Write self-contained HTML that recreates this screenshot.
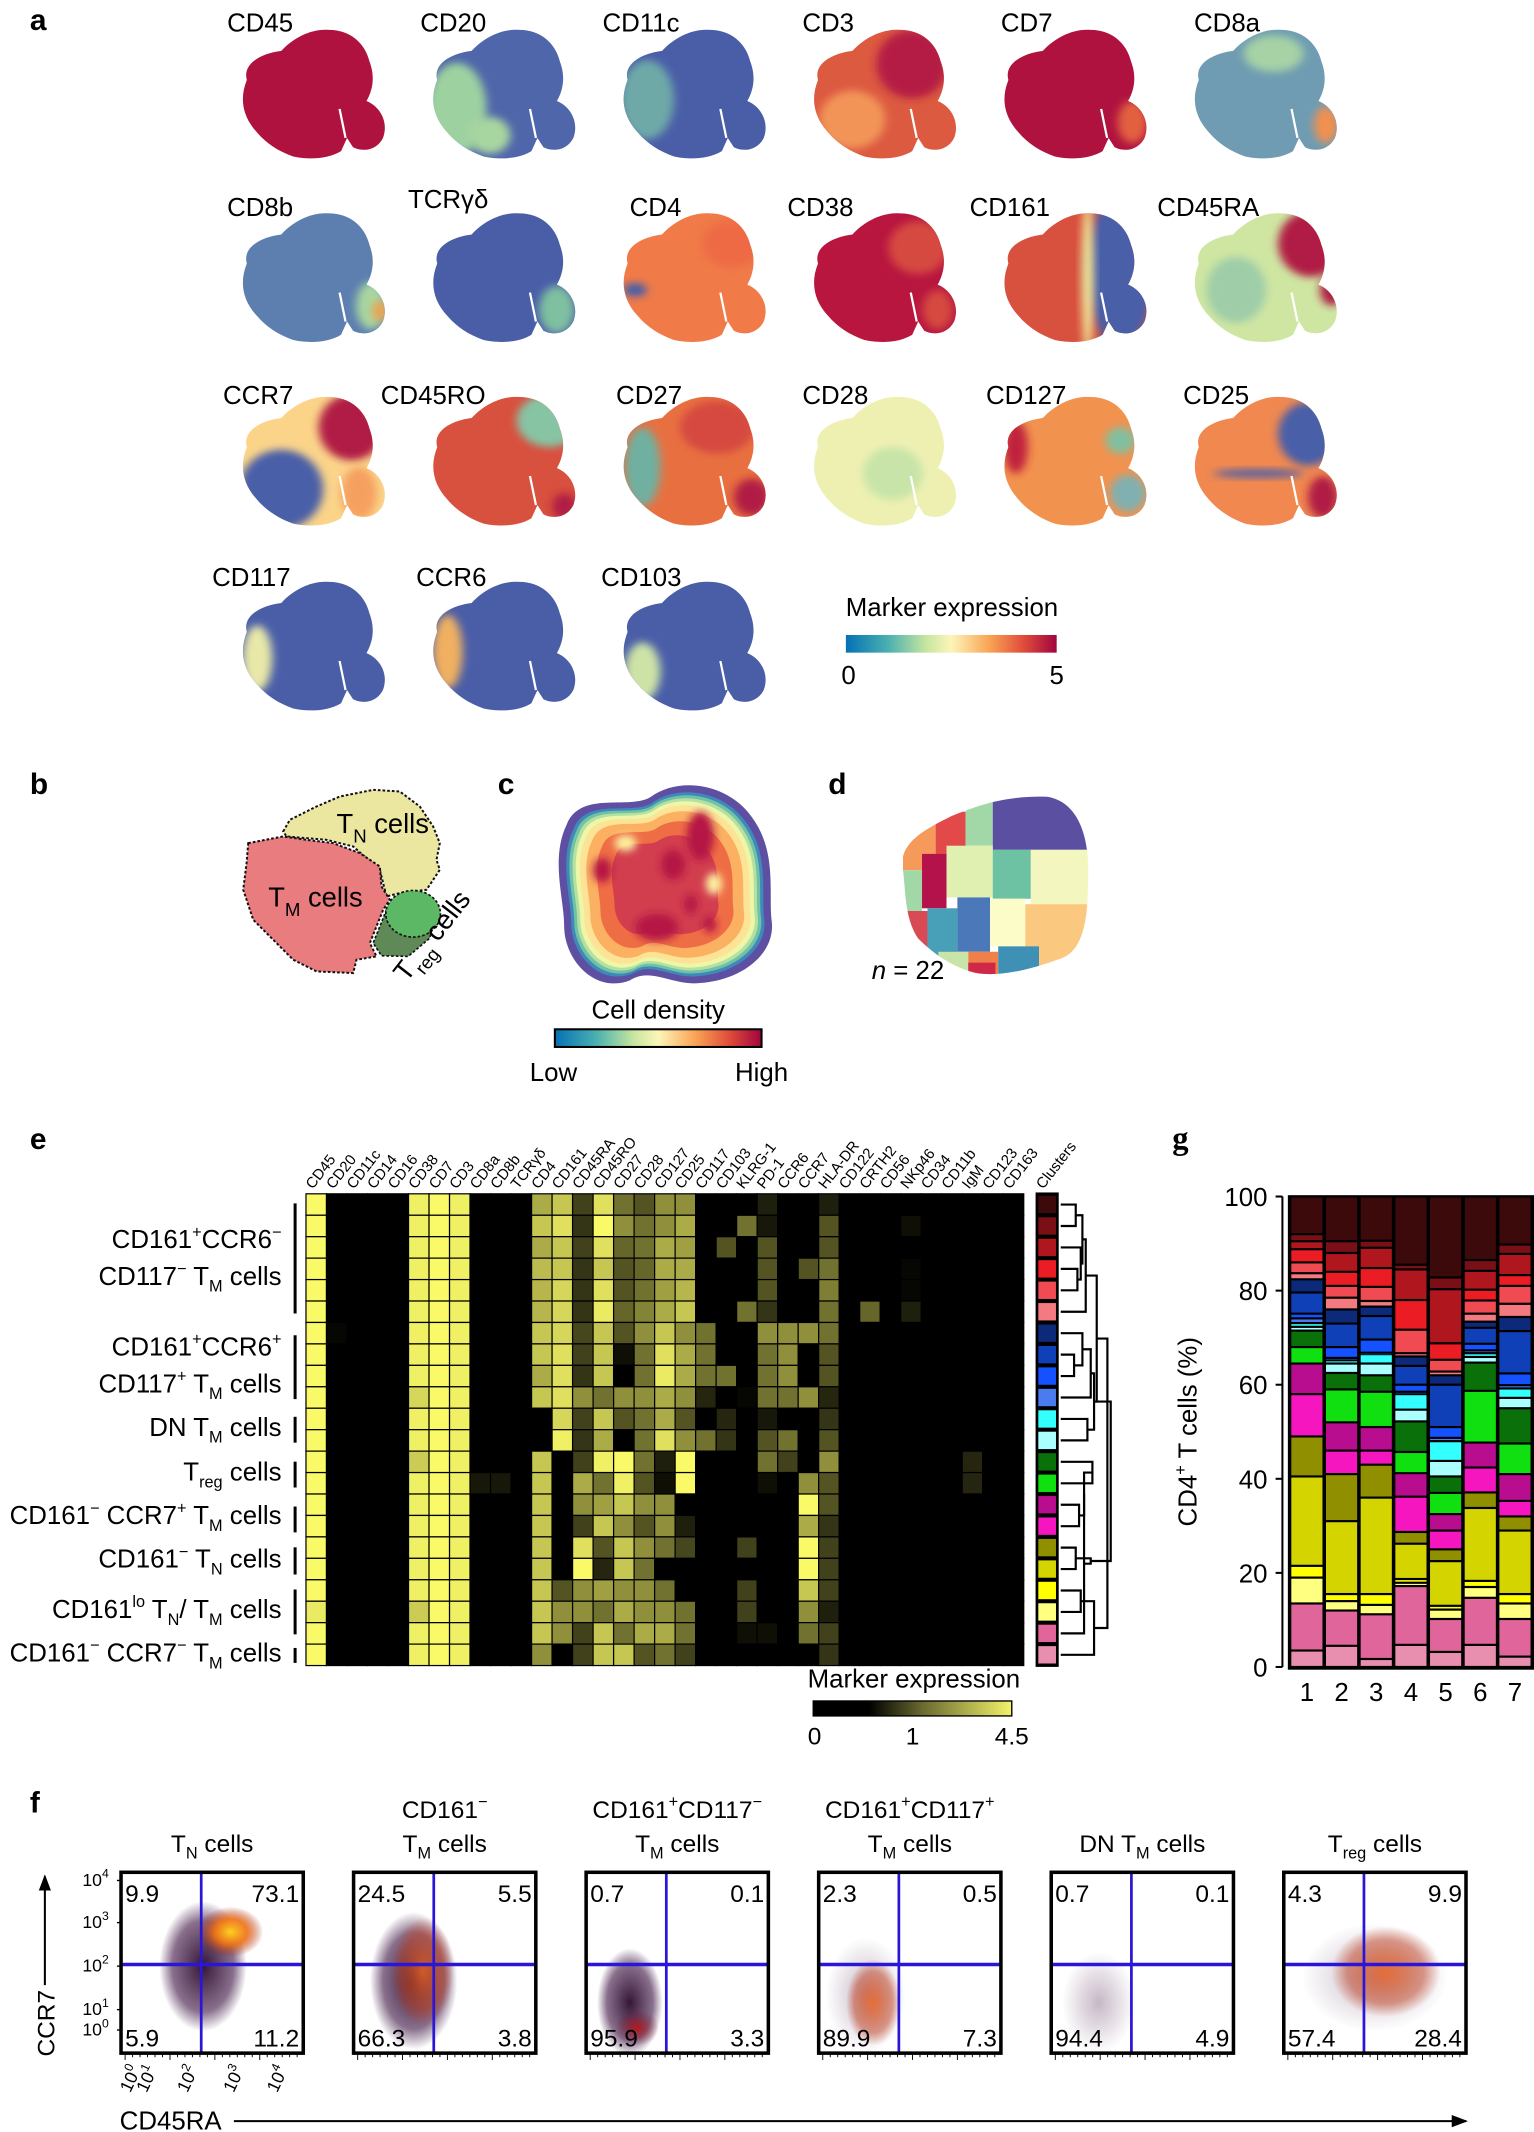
<!DOCTYPE html>
<html><head><meta charset="utf-8"><title>CD4 T cell figure</title>
<style>
html,body{margin:0;padding:0;background:#fff;}
svg{display:block;font-family:"Liberation Sans",Arial,sans-serif;}
</style></head>
<body>
<svg id="fig" xmlns="http://www.w3.org/2000/svg" width="1534" height="2132" viewBox="0 0 1128 1568" preserveAspectRatio="none">
<defs>
  <linearGradient id="specGrad" x1="0" x2="1" y1="0" y2="0">
    <stop offset="0" stop-color="#0571b5"/><stop offset="0.2" stop-color="#4bb0b0"/><stop offset="0.38" stop-color="#c6e6a0"/>
    <stop offset="0.5" stop-color="#fdf5b8"/><stop offset="0.68" stop-color="#f9a456"/><stop offset="0.84" stop-color="#e04e3a"/><stop offset="1" stop-color="#a1043e"/>
  </linearGradient>
  <linearGradient id="heatGrad" x1="0" x2="1" y1="0" y2="0">
    <stop offset="0" stop-color="#000"/><stop offset="0.28" stop-color="#000"/><stop offset="0.55" stop-color="#6a6a30"/><stop offset="1" stop-color="#f2f26a"/>
  </linearGradient>
  <filter id="soft" x="-50%" y="-50%" width="200%" height="200%"><feGaussianBlur stdDeviation="5"/></filter>
  <filter id="soft2" x="-50%" y="-50%" width="200%" height="200%"><feGaussianBlur stdDeviation="3"/></filter>
  <radialGradient id="cloudDark"><stop offset="0" stop-color="#2a0a2a" stop-opacity="0.95"/><stop offset="0.7" stop-color="#3a1040" stop-opacity="0.6"/><stop offset="1" stop-color="#3a1040" stop-opacity="0"/></radialGradient>
  <radialGradient id="cloudHot"><stop offset="0" stop-color="#ffd020"/><stop offset="0.5" stop-color="#f07010" stop-opacity="0.9"/><stop offset="1" stop-color="#a02010" stop-opacity="0"/></radialGradient>
  <radialGradient id="cloudRed"><stop offset="0" stop-color="#c01010" stop-opacity="0.9"/><stop offset="1" stop-color="#601030" stop-opacity="0"/></radialGradient>
  <radialGradient id="cloudLight"><stop offset="0" stop-color="#806080" stop-opacity="0.45"/><stop offset="1" stop-color="#806080" stop-opacity="0"/></radialGradient>
  <radialGradient id="cloudOrange"><stop offset="0" stop-color="#e86020" stop-opacity="0.85"/><stop offset="0.7" stop-color="#c04020" stop-opacity="0.5"/><stop offset="1" stop-color="#c04020" stop-opacity="0"/></radialGradient>
  <marker id="arrowHead" markerWidth="8" markerHeight="8" refX="7" refY="4" orient="auto"><path d="M0,1 L8,4 L0,7 Z" fill="#000"/></marker>
</defs>

<g font-weight="bold" font-size="22" fill="#000">
  <text x="22" y="22">a</text>
  <text x="22" y="584">b</text>
  <text x="366" y="584">c</text>
  <text x="609" y="584">d</text>
  <text x="22" y="845">e</text>
  <text x="22" y="1333">f</text>
  <text x="862" y="845" font-family="Liberation Serif,serif" font-size="24">g</text>
</g>

<g id="panelA"></g>
<g>
  <text x="700" y="453" text-anchor="middle" font-size="19">Marker expression</text>
  <rect x="622" y="467" width="155" height="13" fill="url(#specGrad)"/>
  <text x="624" y="503" text-anchor="middle" font-size="19">0</text>
  <text x="777" y="503" text-anchor="middle" font-size="19">5</text>
</g>

<g transform="translate(147,566.2) scale(0.245)">
  <path d="M250,185 L270,150 L350,110 L420,80 L520,60 L600,65 L660,110 L700,170 L720,220 L710,270 L720,300 L700,330 L680,360 L600,370 L560,380 L540,300 L460,230 L380,210 L260,200 Z" fill="#ece7a0" stroke="#111" stroke-width="6" stroke-dasharray="8 6"/>
  <path d="M145,220 L250,200 L320,210 L400,220 L480,250 L540,290 L545,350 L570,390 L550,420 L510,520 L530,560 L470,570 L460,610 L350,605 L280,570 L230,520 L200,490 L160,450 L130,360 L140,280 Z" fill="#e97c7f" stroke="#111" stroke-width="6" stroke-dasharray="8 6"/>
  <path d="M560,420 L520,520 L545,558 L625,560 L690,505 L700,460 L640,500 L580,470 Z" fill="#5f8a58" stroke="#111" stroke-width="5" stroke-dasharray="8 6"/>
  <ellipse cx="640" cy="432" rx="82" ry="70" fill="#5cb864" stroke="#111" stroke-width="5" stroke-dasharray="8 6"/>
  <text x="410" y="190" font-size="82">T<tspan font-size="56" dy="28">N</tspan><tspan dy="-28"> cells</tspan></text>
  <text x="205" y="410" font-size="82">T<tspan font-size="56" dy="28">M</tspan><tspan dy="-28"> cells</tspan></text>
  <text x="0" y="0" font-size="82" transform="translate(620,640) rotate(-52)">T<tspan font-size="56" dy="28">reg</tspan><tspan dy="-28"> cells</tspan></text>
</g>

<g id="panelC"></g>
<g>
  <text x="484" y="749" text-anchor="middle" font-size="19">Cell density</text>
  <rect x="408" y="757" width="152" height="13" fill="url(#specGrad)" stroke="#000" stroke-width="1.5"/>
  <text x="407" y="795" text-anchor="middle" font-size="19">Low</text>
  <text x="560" y="795" text-anchor="middle" font-size="19">High</text>
</g>

<g id="panelD"></g>
<text x="641" y="720" font-size="19"><tspan font-style="italic">n</tspan> = 22</text>

<g id="panelE"></g>
<g font-size="19" text-anchor="end">
  <text x="207" y="918">CD161<tspan font-size="12" dy="-8">+</tspan><tspan dy="8">CCR6</tspan><tspan font-size="12" dy="-8">−</tspan></text>
  <text x="207" y="945">CD117<tspan font-size="12" dy="-8">−</tspan><tspan dy="8"> T</tspan><tspan font-size="12" dy="5">M</tspan><tspan dy="-5"> cells</tspan></text>
  <text x="207" y="997">CD161<tspan font-size="12" dy="-8">+</tspan><tspan dy="8">CCR6</tspan><tspan font-size="12" dy="-8">+</tspan></text>
  <text x="207" y="1024">CD117<tspan font-size="12" dy="-8">+</tspan><tspan dy="8"> T</tspan><tspan font-size="12" dy="5">M</tspan><tspan dy="-5"> cells</tspan></text>
  <text x="207" y="1056">DN T<tspan font-size="12" dy="5">M</tspan><tspan dy="-5"> cells</tspan></text>
  <text x="207" y="1089">T<tspan font-size="12" dy="5">reg</tspan><tspan dy="-5"> cells</tspan></text>
  <text x="207" y="1121">CD161<tspan font-size="12" dy="-8">−</tspan><tspan dy="8"> CCR7</tspan><tspan font-size="12" dy="-8">+</tspan><tspan dy="8"> T</tspan><tspan font-size="12" dy="5">M</tspan><tspan dy="-5"> cells</tspan></text>
  <text x="207" y="1153">CD161<tspan font-size="12" dy="-8">−</tspan><tspan dy="8"> T</tspan><tspan font-size="12" dy="5">N</tspan><tspan dy="-5"> cells</tspan></text>
  <text x="207" y="1190">CD161<tspan font-size="12" dy="-8">lo</tspan><tspan dy="8"> T</tspan><tspan font-size="12" dy="5">N</tspan><tspan dy="-5">/ T</tspan><tspan font-size="12" dy="5">M</tspan><tspan dy="-5"> cells</tspan></text>
  <text x="207" y="1222">CD161<tspan font-size="12" dy="-8">−</tspan><tspan dy="8"> CCR7</tspan><tspan font-size="12" dy="-8">−</tspan><tspan dy="8"> T</tspan><tspan font-size="12" dy="5">M</tspan><tspan dy="-5"> cells</tspan></text>
</g>
<g stroke="#000" stroke-width="2.2">
  <line x1="217" y1="885" x2="217" y2="966"/><line x1="217" y1="982" x2="217" y2="1029"/>
  <line x1="217" y1="1042" x2="217" y2="1061"/><line x1="217" y1="1075" x2="217" y2="1094"/>
  <line x1="217" y1="1108" x2="217" y2="1127"/><line x1="217" y1="1138" x2="217" y2="1158"/>
  <line x1="217" y1="1169" x2="217" y2="1202"/><line x1="217" y1="1212" x2="217" y2="1223"/>
</g>
<g>
  <text x="672" y="1241" text-anchor="middle" font-size="19">Marker expression</text>
  <rect x="598" y="1251" width="146" height="11" fill="url(#heatGrad)" stroke="#000" stroke-width="1"/>
  <text x="599" y="1283" text-anchor="middle" font-size="18">0</text>
  <text x="671" y="1283" text-anchor="middle" font-size="18">1</text>
  <text x="744" y="1283" text-anchor="middle" font-size="18">4.5</text>
</g>

<g id="panelF"></g>
<g>
  <line x1="33" y1="1460" x2="33" y2="1380" stroke="#000" stroke-width="1.5" marker-end="url(#arrowHead)"/>
  <text x="0" y="0" font-size="18" text-anchor="middle" transform="translate(40,1488) rotate(-90)">CCR7</text>
  <text x="88" y="1566" font-size="19">CD45RA</text>
  <line x1="172" y1="1560" x2="1078" y2="1560" stroke="#000" stroke-width="1.5" marker-end="url(#arrowHead)"/>
</g>

<g id="panelG"></g>
<text x="0" y="0" font-size="19" text-anchor="middle" transform="translate(880,1053) rotate(-90)">CD4<tspan font-size="12" dy="-8">+</tspan><tspan dy="8"> T cells (%)</tspan></text>
</svg>

<script>
const NS = 'http://www.w3.org/2000/svg';
const svg = document.getElementById('fig');
function mk(tag, attrs, parent){
  const e = document.createElementNS(NS, tag);
  for (const k in attrs) e.setAttribute(k, attrs[k]);
  parent.appendChild(e);
  return e;
}

/* ---------------- Panel a ---------------- */
const aMarkers = ['CD45','CD20','CD11c','CD3','CD7','CD8a','CD8b','TCRγδ','CD4','CD38','CD161','CD45RA','CCR7','CD45RO','CD27','CD28','CD127','CD25','CD117','CCR6','CD103'];
const aBase = ['#b0123f','#4f66aa','#4a5ea8','#dc5a40','#b0123f','#6f9cb2','#5c7fb0','#4a5ea8','#f07a48','#b8163f','#d8503e','#cfe6a2','#fbd48a','#d8503e','#e87040','#eef0b2','#f2924f','#f08850','#4a5ea8','#4a5ea8','#4a5ea8'];
const aOver = [
  [],
  [[18,62,20,35,'#9dd1a0'],[40,82,14,14,'#a8d6a0']],
  [[18,55,18,30,'#6ea9a8']],
  [[68,28,24,26,'#b51a45'],[28,70,22,22,'#f29458']],
  [[88,72,10,16,'#e26040']],
  [[90,74,8,14,'#f29050'],[55,20,20,14,'#a6d2a6']],
  [[88,72,10,18,'#a8d6a0'],[94,76,5,8,'#f0a050']],
  [[85,75,12,18,'#7fc0a0']],
  [[10,60,8,5,'#3f5fab'],[75,25,20,18,'#ee6a44']],
  [[72,28,20,20,'#d64a40'],[85,75,10,15,'#d64a40']],
  [[80,45,22,60,'#4a5ea8'],[58,50,4,60,'#f0e898']],
  [[80,25,22,25,'#b01a45'],[94,60,8,12,'#b01a45'],[30,60,20,25,'#9fcda8']],
  [[75,25,22,25,'#b01a45'],[28,72,28,30,'#4a5ea8'],[80,75,12,20,'#f6a060']],
  [[80,20,22,20,'#86c4a4'],[90,85,8,10,'#b01a45']],
  [[15,55,12,30,'#6fb0a0'],[88,78,12,14,'#b01a45'],[65,25,25,20,'#d64a40']],
  [[55,60,20,20,'#c8e4a8']],
  [[10,40,8,20,'#c0203e'],[80,35,10,10,'#80c0a0'],[85,75,12,14,'#80b0b0']],
  [[78,30,20,24,'#4a5ea8'],[88,78,10,16,'#b01a45'],[45,60,30,3,'#4a5ea8']],
  [[12,60,10,25,'#e8e8a8']],
  [[12,55,10,28,'#f0b060']],
  [[15,70,12,22,'#cde3a6']]
];
const aBlobX = [181,321,461,601,741,881, 181,321,461,601,741,881, 181,321,461,601,741,881, 181,321,461];
const aBlobY = [20,20,20,20,20,20, 155,155,155,155,155,155, 290,290,290,290,290,290, 426,426,426];
const aLabelX = [167,309,443,590,736,878, 167,300,463,579,713,851, 164,280,453,590,725,870, 156,306,442];
const aLabelY = [23,23,23,23,23,23, 159,153,159,159,159,159, 297,297,297,297,297,297, 431,431,431];
const BLOB = 'M5,40 C2,28 14,20 28,18 C36,8 48,1 60,2 C74,2 84,12 87,26 C91,38 89,48 85,56 C94,60 100,72 96,84 C92,93 83,95 76,91 L72,84 L68,94 C58,101 44,100 36,98 C26,94 18,88 12,80 C2,68 0,54 5,40 Z';
const defs = svg.querySelector('defs');
const panelA = document.getElementById('panelA');
for (let i = 0; i < aMarkers.length; i++) {
  const cp = mk('clipPath', {id: 'blobclip' + i}, defs);
  mk('path', {d: BLOB}, cp);
  const g = mk('g', {transform: `translate(${aBlobX[i]-5},${aBlobY[i]}) scale(1.1,0.97)`}, panelA);
  
  
  const inner = mk('g', {'clip-path': `url(#blobclip${i})`}, g);
  mk('rect', {x: 0, y: 0, width: 100, height: 100, fill: aBase[i]}, inner);
  aOver[i].forEach(o => { mk('ellipse', {cx: o[0], cy: o[1], rx: o[2], ry: o[3], fill: o[4], filter: 'url(#soft2)'}, inner); });
  mk('path', {d: 'M67,62 L71,84', stroke: '#fff', 'stroke-width': 1.5, fill: 'none'}, inner);
  const t = mk('text', {x: aLabelX[i], y: aLabelY[i], 'font-size': 19}, panelA);
  t.textContent = aMarkers[i];
  
  
}

/* ---------------- Panel c ---------------- */
const panelC = document.getElementById('panelC');
const cLevels = ['#5e4fa2','#3e88ba','#6fc2a5','#b4e0a2','#eef7a8','#fde396','#fbb062','#ef6d45','#d23e4e'];
const cScale = [1, 0.93, 0.9, 0.87, 0.84, 0.8, 0.74, 0.64, 0.5];
const CBLOB = 'M-70,-45 C-60,-70 -25,-55 -10,-65 C10,-80 45,-75 62,-50 C80,-25 74,5 76,25 C80,50 55,70 25,72 C5,74 -10,60 -25,70 C-50,80 -72,55 -72,30 C-72,10 -82,-20 -70,-45 Z';
for (let k = 0; k < cLevels.length; k++) {
  const p = mk('path', {d: CBLOB, fill: cLevels[k], transform: `translate(489,651) scale(${1.03*cScale[k]},${1.0*cScale[k]})`}, panelC);
  
  
}
const cHot = [[443,640,7,9],[495,636,9,11],[483,682,16,10],[508,665,5,7],[515,615,10,18],[522,680,5,6]];
cHot.forEach(h => {
  const e = mk('ellipse', {cx: h[0], cy: h[1], rx: h[2], ry: h[3], fill: '#b51844', filter: 'url(#soft2)'}, panelC);
  
  
});
const cYellow = [[460,620,8,6],[525,650,6,8]];
cYellow.forEach(h => { mk('ellipse', {cx: h[0], cy: h[1], rx: h[2], ry: h[3], fill: '#fdf0a0', filter: 'url(#soft2)'}, panelC); });

/* ---------------- Panel d ---------------- */
const panelD = document.getElementById('panelD');
const cpD = mk('clipPath', {id: 'dclip'}, defs);
mk('path', {d: 'M664,640 C660,620 680,610 700,600 C720,592 740,585 770,586 C795,590 802,620 800,650 C800,680 795,700 780,705 C760,712 740,718 720,716 C700,712 685,700 675,690 C665,675 666,655 664,640 Z'}, cpD);
const dPatch = [[664,600,24,40,'#f59a5a'],[688,597,22,40,'#e24a4a'],[710,590,20,32,'#a2d8a8'],[730,585,72,40,'#5a4fa0'],[664,640,14,30,'#a2d8a8'],[678,628,18,40,'#b3124a'],[696,622,34,38,'#dff0b0'],[730,625,28,36,'#6cc2a2'],[758,625,44,40,'#f4f6c0'],[664,670,18,30,'#d84a54'],[682,668,22,35,'#48a0b8'],[704,660,24,40,'#4a78b8'],[728,661,26,35,'#fbfcc8'],[754,665,48,50,'#fbc880'],[690,700,22,20,'#c8e4a8'],[712,700,22,20,'#f0804a'],[734,696,30,22,'#3f90b5'],[712,708,20,10,'#d02848']];
dPatch.forEach(p => {
  const r = mk('rect', {x: p[0], y: p[1], width: p[2], height: p[3], fill: p[4], 'clip-path': 'url(#dclip)'}, panelD);
  
  
});

/* ---------------- Panel e ---------------- */
const heatCols = ['CD45','CD20','CD11c','CD14','CD16','CD38','CD7','CD3','CD8a','CD8b','TCRγδ','CD4','CD161','CD45RA','CD45RO','CD27','CD28','CD127','CD25','CD117','CD103','KLRG-1','PD-1','CCR6','CCR7','HLA-DR','CD122','CRTH2','CD56','NKp46','CD34','CD11b','IgM','CD123','CD163'];
const heatRows = [
 [4.5,0,0,0,0,4.3,4.5,4.3,0,0,0,3,3.5,1.2,4,2,1.5,2.5,2.5,0,0,0,0.7,0,0,0.7,0,0,0,0,0,0,0,0,0],
 [4.5,0,0,0,0,4.3,4.5,4.3,0,0,0,3.5,4,1,4.5,2.5,2,2.5,3,0,0,2,0.6,0,0,1.5,0,0,0,0.5,0,0,0,0,0],
 [4.5,0,0,0,0,4.3,4.5,4.3,0,0,0,3,3.5,1.2,4,1.8,2,3,2.8,0,1.5,0,1.5,0,0,1.5,0,0,0,0.3,0,0,0,0,0],
 [4.5,0,0,0,0,4.3,4.5,4.3,0,0,0,3.3,3.5,1,3.5,1.5,1.8,3,3,0,0,0,1.5,0,1.5,2,0,0,0,0.4,0,0,0,0.3,0],
 [4.5,0,0,0,0,4.3,4.5,4.3,0,0,0,3.2,3.8,1,4,1.5,2,2.8,3.2,0,0,0,1.5,0,0,2.2,0,0,0,0.4,0,0,0,0.3,0],
 [4.5,0.3,0,0,0,4.3,4.5,4.3,0,0,0,3.2,3.8,1,4.2,1.8,2.3,3,3.5,0,0,2,1,0,0,2,0,1.8,0,0.7,0,0,0,0,0],
 [4.5,0.4,0,0,0,4.3,4.5,4.3,0,0,0,3.5,3.8,1.3,3.5,1.5,2.5,3.5,2.5,2,0,0.2,2.5,2.5,2.5,2,0,0,0,0.3,0,0,0,0,0],
 [4.5,0.3,0,0,0,4.3,4.5,4.3,0,0,0,3.5,4,1.2,3.5,0.5,2,4,3,2,0,0,2,2.5,0,1.5,0,0,0,0,0,0,0,0,0],
 [4.5,0.3,0,0,0,4.3,4.5,4.3,0,0,0,3,4,1,3.5,0.3,2,4.2,3,2,2,0,2,2.5,0,1.5,0,0,0,0.3,0,0,0,0,0],
 [4.5,0,0,0,0,3.8,4.5,4.3,0,0,0,3.5,4,2.5,2,2.5,2.5,3,2.5,0.8,0,0.4,2,2,2.5,0.8,0,0,0,0,0,0,0,0,0],
 [4.5,0,0,0,0,4.3,4.5,4.3,0,0,0,0,3.8,1.2,3.5,1.5,2,3,1.5,0,0.8,0,0.6,0,0,1,0,0,0,0,0,0,0,0,0],
 [4.5,0,0,0,0,4.3,4.5,4.3,0,0,0,0,4.3,1,3,0.3,2,4,2.5,2,1,0,1.5,2,0,1.5,0,0,0,0,0,0,0,0,0],
 [4.5,0,0,0,0,3.6,4.5,4.3,0,0,0,3.5,0,1.2,4.3,4.5,2,0.7,4.5,0,0,0,2,1.2,0,2.5,0,0,0,0.3,0,0,0.8,0,0],
 [4.5,0,0,0,0,4.3,4.5,4.3,0.6,0.6,0,3.5,0,3,2,4.3,1.5,0.5,4.5,0,0,0,0.5,0,2.5,1.5,0,0,0,0,0,0,0.8,0,0],
 [4.5,0,0,0,0,4.3,4.5,4.3,0,0,0,3.5,0,2.5,2.8,3.5,2.5,2.5,0,0,0,0.3,0.3,0,4.5,1.5,0,0,0,0,0,0,0,0,0],
 [4.5,0,0,0,0,4.3,4.5,4.3,0,0,0,3.5,0,1.2,3.5,2.5,1.5,2.5,0.7,0,0,0.3,0,0,3,1,0,0,0,0,0,0,0,0,0],
 [4.5,0,0,0,0,4.3,4.5,4.3,0,0,0,3.5,0,4,1.5,3.5,2.5,2,1.3,0,0,1.2,0,0,4.5,1.2,0,0,0,0,0,0,0,0,0],
 [4.5,0,0,0,0,4.3,4.5,4.3,0,0,0,3.5,0,4.5,0.8,3.5,2,0.3,0,0,0,0.3,0,0,4.5,1.2,0,0,0,0,0,0,0,0,0],
 [4.5,0,0,0,0,4.3,4.5,4.3,0,0,0,3.5,1.5,2.5,2.8,2.5,2.5,2,0,0,0,1.2,0,0,3.5,1.2,0,0,0,0,0,0,0,0,0],
 [4.2,0,0,0,0,3.6,4.5,4.3,0,0,0,3.5,2.5,2.5,2,3,2.5,2.5,2,0,0,1.2,0,0,2.5,0.7,0,0,0,0,0,0,0,0,0],
 [4.5,0,0,0,0,4.3,4.5,4.3,0,0,0,3.5,2.5,1.2,3.5,2,3,3,2,0,0,0.5,0.5,0,2,1.2,0,0,0,0.2,0,0,0,0,0],
 [4.5,0,0,0,0,4.3,4.5,4.3,0,0,0,2.5,0,1.2,3.5,3.5,1.5,2,1.2,0,0,0,0,0,0,1,0,0,0,0,0,0,0,0,0]
];
const clusterColors = ['#3d0a0c','#7a1016','#b0161e','#ec1c24','#f04a52','#f27a80','#0d2a7a','#1040b8','#1452ff','#4a7cf0','#33ffff','#aaffff','#0a700a','#10e010','#b80d8f','#f516c0','#8f8f00','#d4d400','#ffff00','#ffff80','#e0659a','#e88fb0'];
const dendroMerges = [[0,1,45],[3,4,50],[2,23,60],[22,24,65],[25,5,75],[7,8,40],[6,27,65],[28,9,90],[10,11,80],[29,30,100],[26,31,108],[12,13,95],[14,15,55],[16,17,45],[33,34,70],[18,19,60],[36,20,70],[37,21,100],[35,38,90],[32,39,140],[31,40,150]];

const panelE = document.getElementById('panelE');
const hx0 = 225, hy0 = 878, hcw = 15.08, hrh = 15.77;
const hxScale = c => hx0 + c * hcw;
const hyScale = r => hy0 + r * hrh;
function heatColor(v){
  const t = Math.max(0, (v - 0.35) / 4.15);
  const k = Math.pow(t, 0.85);
  return `rgb(${Math.round(250*k)},${Math.round(250*k)},${Math.round(105*k)})`;
}
mk('rect', {x: hx0, y: hy0, width: hcw*heatCols.length, height: hrh*heatRows.length, fill: '#000'}, panelE);
heatRows.forEach((row, r) => {
  row.forEach((v, c) => {
    const cell = mk('rect', {x: hxScale(c), y: hyScale(r), width: hcw, height: hrh, fill: heatColor(v), stroke: '#000', 'stroke-width': 0.9}, panelE);
    
    
  });
});
heatCols.forEach((name, c) => {
  const t = mk('text', {x: 0, y: 0, 'font-size': 11, transform: `translate(${hxScale(c)+5},${hy0-3}) rotate(-52)`}, panelE);
  t.textContent = name;
  
  
});
const ct = mk('text', {x: 0, y: 0, 'font-size': 11, transform: `translate(767,${hy0-3}) rotate(-52)`}, panelE);
ct.textContent = 'Clusters';


mk('rect', {x: 761.5, y: hy0 - 1, width: 17, height: hrh*22 + 2, fill: '#000'}, panelE);
clusterColors.forEach((col, r) => {
  const cc = mk('rect', {x: 763.5, y: hyScale(r) + 1.5, width: 13, height: hrh - 3, fill: col}, panelE);
  
  
});
const nodeY = clusterColors.map((_, r) => hyScale(r) + hrh / 2);
const nodeH = clusterColors.map(() => 0);
const dx = h => 780 + h * 0.245;
dendroMerges.forEach(m => {
  const [a, b, h] = m;
  const p = mk('path', {d: `M${dx(nodeH[a])},${nodeY[a]} H${dx(h)} V${nodeY[b]} H${dx(nodeH[b])}`, fill: 'none', stroke: '#000', 'stroke-width': 1.6}, panelE);
  
  
  nodeY.push((nodeY[a] + nodeY[b]) / 2);
  nodeH.push(h);
});

/* ---------------- Panel f ---------------- */
const fTitles1 = ['', 'CD161<tspan font-size="12" dy="-8">−</tspan>', 'CD161<tspan font-size="12" dy="-8">+</tspan><tspan dy="8">CD117</tspan><tspan font-size="12" dy="-8">−</tspan>', 'CD161<tspan font-size="12" dy="-8">+</tspan><tspan dy="8">CD117</tspan><tspan font-size="12" dy="-8">+</tspan>', '', ''];
const fTitles2 = ['T<tspan font-size="12" dy="5">N</tspan><tspan dy="-5"> cells</tspan>','T<tspan font-size="12" dy="5">M</tspan><tspan dy="-5"> cells</tspan>','T<tspan font-size="12" dy="5">M</tspan><tspan dy="-5"> cells</tspan>','T<tspan font-size="12" dy="5">M</tspan><tspan dy="-5"> cells</tspan>','DN T<tspan font-size="12" dy="5">M</tspan><tspan dy="-5"> cells</tspan>','T<tspan font-size="12" dy="5">reg</tspan><tspan dy="-5"> cells</tspan>'];
const fUL = ['9.9','24.5','0.7','2.3','0.7','4.3'];
const fUR = ['73.1','5.5','0.1','0.5','0.1','9.9'];
const fLL = ['5.9','66.3','95.9','89.9','94.4','57.4'];
const fLR = ['11.2','3.8','3.3','7.3','4.9','28.4'];
const fClouds = [
  [[0.45,0.52,0.24,0.36,'cloudDark'],[0.6,0.33,0.18,0.14,'cloudHot']],
  [[0.33,0.6,0.24,0.38,'cloudDark'],[0.38,0.55,0.17,0.3,'cloudOrange']],
  [[0.24,0.72,0.18,0.3,'cloudDark'],[0.28,0.86,0.12,0.1,'cloudRed']],
  [[0.26,0.68,0.22,0.32,'cloudLight'],[0.3,0.72,0.15,0.24,'cloudOrange']],
  [[0.26,0.72,0.2,0.28,'cloudLight']],
  [[0.5,0.58,0.4,0.3,'cloudLight'],[0.56,0.55,0.3,0.25,'cloudOrange']]
];
const fBoxX = [89,260,431,602,773,944];
const fBoxY = 1377, fBoxW = 134, fBoxH = 133;
const panelF = document.getElementById('panelF');
fBoxX.forEach((bx, i) => {
  const g = mk('g', {}, panelF);
  
  
  const cpf = mk('clipPath', {id: 'fclip' + i}, defs);
  mk('rect', {x: bx, y: fBoxY, width: fBoxW, height: fBoxH}, cpf);
  const cg = mk('g', {'clip-path': `url(#fclip${i})`}, g);
  fClouds[i].forEach(c => { mk('ellipse', {cx: bx + c[0]*fBoxW, cy: fBoxY + c[1]*fBoxH, rx: c[2]*fBoxW, ry: c[3]*fBoxH, fill: `url(#${c[4]})`}, cg); });
  const vx = bx + 0.44 * fBoxW, hy = fBoxY + 0.51 * fBoxH;
  mk('line', {x1: vx, y1: fBoxY, x2: vx, y2: fBoxY + fBoxH, stroke: '#2a16d8', 'stroke-width': 2}, g);
  mk('line', {x1: bx, y1: hy, x2: bx + fBoxW, y2: hy, stroke: '#2a16d8', 'stroke-width': 2.6}, g);
  mk('rect', {x: bx, y: fBoxY, width: fBoxW, height: fBoxH, fill: 'none', stroke: '#000', 'stroke-width': 2.6}, g);
  for (let k = 0; k < 24; k++) { mk('line', {x1: bx + 3 + k*5.5, y1: fBoxY + fBoxH + 1, x2: bx + 3 + k*5.5, y2: fBoxY + fBoxH + (k % 6 === 0 ? 5 : 3), stroke: '#000', 'stroke-width': 0.7}, g); }
  const vals = [[fUL[i], bx + 3, fBoxY + 22, 'start'], [fUR[i], bx + fBoxW - 3, fBoxY + 22, 'end'], [fLL[i], bx + 3, fBoxY + fBoxH - 5, 'start'], [fLR[i], bx + fBoxW - 3, fBoxY + fBoxH - 5, 'end']];
  vals.forEach(v => {
    const t = mk('text', {x: v[1], y: v[2], 'font-size': 18, 'text-anchor': v[3]}, g);
    t.textContent = v[0];
    
    
  });
  const t1 = mk('text', {x: bx + fBoxW/2, y: 1337, 'font-size': 18, 'text-anchor': 'middle'}, g);
  t1.innerHTML = fTitles1[i];
  
  
  const t2 = mk('text', {x: bx + fBoxW/2, y: 1362, 'font-size': 18, 'text-anchor': 'middle'}, g);
  t2.innerHTML = fTitles2[i];
  
  
});
const fYTicks = ['4','3','2','1','0'];
const fYTickPos = [1383, 1414, 1446, 1478, 1493];
fYTicks.forEach((e, k) => {
  const t = mk('text', {x: 80, y: fYTickPos[k] + 4, 'font-size': 13, 'text-anchor': 'end'}, panelF);
  t.innerHTML = `10<tspan font-size="9" dy="-6">${e}</tspan>`;
  
  
  mk('line', {x1: 86, y1: fYTickPos[k], x2: 89, y2: fYTickPos[k], stroke: '#000'}, panelF);
});
const fXTickPos = [104, 116, 146, 180, 212];
fYTicks.slice().reverse().forEach((e, k) => {
  const t = mk('text', {x: 0, y: 0, 'font-size': 13, 'text-anchor': 'end', transform: `translate(${fXTickPos[k]},1522) rotate(-65)`}, panelF);
  t.innerHTML = `10<tspan font-size="9" dy="-6">${e}</tspan>`;
  
  
});

/* ---------------- Panel g ---------------- */
const gSamples = ['1','2','3','4','5','6','7'];
const gYTicks = [0, 20, 40, 60, 80, 100];
// cluster percentages per sample, from bottom cluster (22) to top cluster (1)
const gSample1 = [3.5,10,5.5,2.5,19,8.5,9,6.5,3.5,3.5,0.8,0.8,1,1,4.5,2.8,1.3,2.3,2.8,1.7,1.5,8];
const gSample2 = [4.5,7.5,2,1.5,15.5,10,5,6,7,3.5,2,0.7,0.5,2.3,5,3,2.5,2.5,3,4,2.5,9.5];
const gSample3 = [1.7,9.5,2,2.3,20.5,7,3,5,7.5,3.5,2.5,2,0.3,2.8,5,2,1.2,3,4,4.3,1.5,9.4];
const gSample4 = [4.7,12.5,0.7,0.8,7.5,2.5,7.5,5,4.5,6.5,2.5,3.3,0.5,1.5,4,2,0.7,5,6.3,6.5,1,14.5];
const gSample5 = [3.2,7,2,0.8,9.5,2.5,4,3.5,4.5,3.5,3.3,4.2,0.7,2.3,9,2,0.8,2.5,3.5,11.5,2.5,17.2];
const gSample6 = [4.7,10,2.3,1.3,15.5,3.3,5.3,5.3,11,6,1.2,0.8,0.6,1.4,3.4,1.3,1.7,2.8,2.3,4,2.3,13.5];
const gSample7 = [2.2,8,3.3,2,13.5,3,3.3,5.7,6.5,7.5,2.2,2,0.7,2.5,9,3,2.8,3.8,2.3,4.5,2,10.2];
const gData = [gSample1, gSample2, gSample3, gSample4, gSample5, gSample6, gSample7];
const panelG = document.getElementById('panelG');
const gy = v => 1226 - v * 3.46;
const gx = i => 961 + i * 25.5;
const gBarW = 24.5;
mk('rect', {x: 947, y: gy(100) - 1, width: 181, height: gy(0) - gy(100) + 3, fill: '#000'}, panelG);
mk('line', {x1: 943, y1: gy(100), x2: 943, y2: gy(0), stroke: '#000', 'stroke-width': 1.5}, panelG);
gYTicks.forEach(v => {
  mk('line', {x1: 938, y1: gy(v), x2: 943, y2: gy(v), stroke: '#000', 'stroke-width': 1.5}, panelG);
  const t = mk('text', {x: 932, y: gy(v) + 7, 'font-size': 19, 'text-anchor': 'end'}, panelG);
  t.textContent = v;
  
  
});
gData.forEach((vals, i) => {
  let cum = 0;
  vals.forEach((v, j) => {
    const col = clusterColors[clusterColors.length - 1 - j];
    const top = Math.min(100, cum + v);
    const seg = mk('rect', {x: gx(i) - gBarW/2 + 0.8, y: gy(top) + 0.8, width: gBarW - 1.6, height: Math.max(0.3, gy(cum) - gy(top) - 1.6), fill: col}, panelG);
    
    
    cum = top;
  });
  const t = mk('text', {x: gx(i), y: 1251, 'font-size': 19, 'text-anchor': 'middle'}, panelG);
  t.textContent = gSamples[i];
  
  
});
</script>
</body></html>
